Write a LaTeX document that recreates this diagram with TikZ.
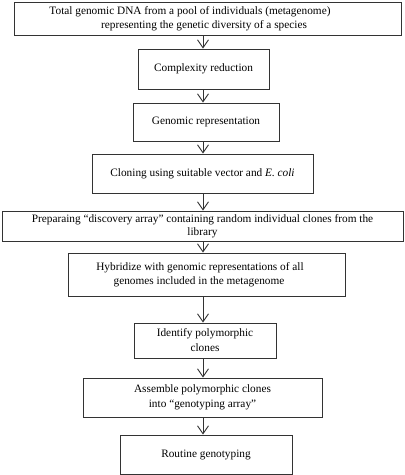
\documentclass[tikz,border=0pt]{standalone}
\usepackage{fontspec}
\setmainfont{Liberation Serif}
\usetikzlibrary{arrows.meta}
\begin{document}
\begin{tikzpicture}[x=1pt,y=-1pt,
  stepbox/.style={draw=black!80,line width=0.9pt,rectangle,inner sep=0pt,align=center,
    font=\fontsize{11.3}{14}\selectfont},
  arr/.style={draw=black!80,line width=0.9pt,-{Straight Barb[length=8pt,width=11pt,line width=0.9pt]}}]
\useasboundingbox[fill=white] (0,0) rectangle (405,475);
\coordinate (ax) at (203,0);
\node[stepbox,minimum width=387pt,minimum height=33pt] (b1) at (207.5,18.5)
  {Total genomic DNA from a pool of individuals (metagenome)\hspace*{35pt}\\representing the genetic diversity of a species\hspace*{7pt}};
\node[stepbox,minimum width=131pt,minimum height=40pt] (b2) at (203.5,69) {Complexity reduction};
\node[stepbox,minimum width=146pt,minimum height=38pt] (b3) at (206,122) {Genomic representation};
\node[stepbox,minimum width=221pt,minimum height=39pt] (b4) at (202.5,173.5) {Cloning using suitable vector and \textit{E. coli}};
\node[stepbox,minimum width=401pt,minimum height=30pt,font=\fontsize{11.3}{12.5}\selectfont] (b5) at (202.5,226)
  {Preparaing ``discovery array'' containing random individual clones from the\\library};
\node[stepbox,minimum width=277pt,minimum height=43pt] (b6) at (206.5,274.5)
  {Hybridize with genomic representations of all\hspace*{13pt}\\genomes included in the metagenome\hspace*{15pt}};
\node[stepbox,minimum width=142pt,minimum height=35pt,font=\fontsize{11.3}{15}\selectfont] (b7) at (205,340.5)
  {Identify polymorphic\\clones};
\node[stepbox,minimum width=239pt,minimum height=39pt,font=\fontsize{11.3}{15}\selectfont] (b8) at (202.5,397.5)
  {Assemble polymorphic clones\\into ``genotyping array''};
\node[stepbox,minimum width=172pt,minimum height=39pt] (b9) at (206,454.5) {Routine genotyping};
\foreach \a/\b in {b1/b2,b2/b3,b3/b4,b4/b5,b5/b6,b6/b7,b7/b8,b8/b9}
  \draw[arr] (\a.south -| ax) -- (\b.north -| ax);
\end{tikzpicture}
\end{document}
